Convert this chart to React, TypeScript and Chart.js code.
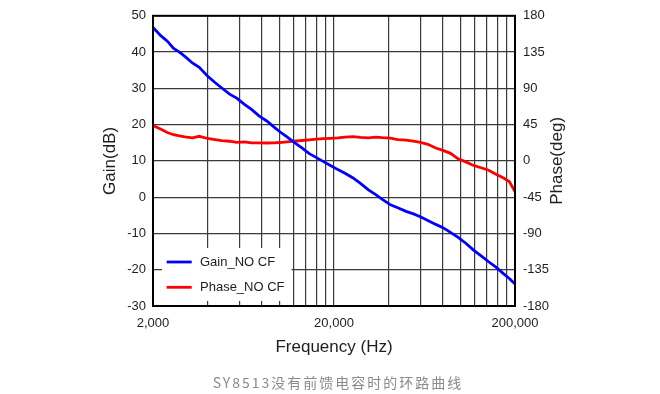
import React, { useEffect, useRef } from 'react';
import { Chart, registerables } from 'chart.js';

Chart.register(...registerables);

// ---- data ----
const FREQ_HZ = [
  2000, 2200, 2400, 2600, 2800, 3000, 3300, 3600, 4000, 4400, 4800, 5300, 5800, 6400, 7000, 7700,
  8500, 9300, 10000, 11000, 12000, 13300, 14600, 16000, 17500, 19000, 21000, 23000, 25500, 28000,
  31000, 34000, 37000, 41000, 45000, 50000, 55000, 60000, 66000, 73000, 80000, 88000, 97000,
  107000, 118000, 130000, 143000, 157000, 172000, 186000, 200000,
];

const GAIN_DB = [
  46.8, 44.6, 43.0, 41.0, 40.0, 38.8, 37.0, 35.8, 33.4, 31.6, 30.1, 28.4, 27.3, 25.6, 24.2, 22.4,
  21.0, 19.4, 18.1, 16.6, 15.2, 13.6, 12.0, 10.9, 9.8, 8.8, 7.6, 6.6, 5.3, 3.8,
  2.0, 0.7, -0.6, -2.1, -2.9, -3.9, -4.6, -5.4, -6.4, -7.5, -8.4, -9.7, -11.1,
  -12.7, -14.6, -16.2, -17.8, -19.3, -21.0, -22.4, -23.9,
];

const PHASE_DEG = [
  43.9, 39.5, 35.3, 32.5, 31.0, 29.8, 28.6, 30.5, 27.8, 26.5, 25.2, 24.4, 22.9, 23.5, 22.3, 22.4,
  22.2, 22.4, 22.8, 23.6, 24.5, 25.3, 26.2, 27.0, 27.6, 28.0, 28.6, 29.6, 30.2, 29.3,
  28.6, 29.5, 28.8, 28.3, 26.4, 25.9, 24.4, 23.0, 20.6, 16.0, 13.0, 9.4, 2.5,
  -1.2, -5.6, -8.5, -11.5, -16.5, -21.0, -25.5, -38.0,
];

const X_GRID_VALUES = [
  2000, 4000, 6000, 8000, 10000, 12000, 14000, 16000, 18000, 20000,
  40000, 60000, 80000, 100000, 120000, 140000, 160000, 180000, 200000,
];
const X_TICK_VALUES = [2000, 20000, 200000];
const X_TICK_LABELS = ['2,000', '20,000', '200,000'];

const GAIN_MIN = -30;
const GAIN_MAX = 50;
const GAIN_STEP = 10;
const PHASE_MIN = -180;
const PHASE_MAX = 180;
const PHASE_STEP = 45;

const SERIES_NAMES = ['Gain_NO CF', 'Phase_NO CF'];
const SERIES_COLORS = ['#0000ff', '#ff0000'];
const X_TITLE = 'Frequency (Hz)';
const Y_TITLE = 'Gain(dB)';
const Y1_TITLE = 'Phase(deg)';
const CAPTION = 'SY8513没有前馈电容时的环路曲线';

const FONT = "'Liberation Sans', Arial, sans-serif";
const TEXT = '#1e1e1e';

const overlayPlugin = {
  id: 'overlay',
  afterDraw(chart: any) {
    const { ctx, chartArea: a } = chart;
    ctx.save();
    // legend box (inside plot, bottom-left)
    ctx.fillStyle = '#ffffff';
    ctx.fillRect(a.left + 9, a.bottom - 58, 129.5, 53);
    const rows = [a.bottom - 44, a.bottom - 18.7];
    SERIES_NAMES.forEach((name, i) => {
      ctx.strokeStyle = SERIES_COLORS[i];
      ctx.lineWidth = 2.8;
      ctx.beginPath();
      ctx.moveTo(a.left + 13.7, rows[i]);
      ctx.lineTo(a.left + 38.7, rows[i]);
      ctx.stroke();
      ctx.fillStyle = TEXT;
      ctx.font = `13px ${FONT}`;
      ctx.textAlign = 'left';
      ctx.textBaseline = 'middle';
      ctx.fillText(name, a.left + 47, rows[i] + 0.5);
    });
    // frame
    ctx.strokeStyle = '#000';
    ctx.lineWidth = 2;
    ctx.strokeRect(a.left, a.top, a.right - a.left, a.bottom - a.top);
    // axis titles
    ctx.fillStyle = TEXT;
    ctx.font = `17px ${FONT}`;
    ctx.textAlign = 'center';
    ctx.textBaseline = 'alphabetic';
    const midY = (a.top + a.bottom) / 2;
    ctx.save();
    ctx.translate(a.left - 38, midY);
    ctx.rotate(-Math.PI / 2);
    ctx.fillText(Y_TITLE, 0, 0);
    ctx.restore();
    ctx.save();
    ctx.translate(a.right + 47, midY);
    ctx.rotate(-Math.PI / 2);
    ctx.fillText(Y1_TITLE, 0, 0);
    ctx.restore();
    ctx.fillText(X_TITLE, (a.left + a.right) / 2, a.bottom + 46);
    ctx.restore();
  },
};

export default function App() {
  const ref = useRef<HTMLCanvasElement | null>(null);

  useEffect(() => {
    if (!ref.current) return;
    const gainPts = FREQ_HZ.map((f, i) => ({ x: f, y: GAIN_DB[i] }));
    const phasePts = FREQ_HZ.map((f, i) => ({ x: f, y: PHASE_DEG[i] }));
    const chart = new Chart(ref.current, {
      type: 'line',
      data: {
        datasets: [
          {
            label: SERIES_NAMES[0],
            data: gainPts,
            borderColor: SERIES_COLORS[0],
            backgroundColor: SERIES_COLORS[0],
            borderWidth: 2.8,
            pointRadius: 0,
            tension: 0,
            yAxisID: 'y',
          },
          {
            label: SERIES_NAMES[1],
            data: phasePts,
            borderColor: SERIES_COLORS[1],
            backgroundColor: SERIES_COLORS[1],
            borderWidth: 2.8,
            pointRadius: 0,
            tension: 0,
            yAxisID: 'y1',
          },
        ],
      },
      options: {
        animation: false,
        responsive: false,
        layout: { padding: { top: 15, left: 0, right: 0, bottom: 0 } },
        plugins: { legend: { display: false }, tooltip: { enabled: false }, title: { display: false } },
        scales: {
          x: {
            type: 'logarithmic',
            min: X_TICK_VALUES[0],
            max: X_TICK_VALUES[X_TICK_VALUES.length - 1],
            afterBuildTicks: (s: any) => {
              s.ticks = X_GRID_VALUES.map((v) => ({ value: v }));
            },
            afterFit: (s: any) => {
              s.height = 88;
            },
            grid: { color: '#3a3a3a', lineWidth: 1.2, drawTicks: false },
            border: { display: false },
            ticks: {
              autoSkip: false,
              maxRotation: 0,
              padding: 10,
              color: TEXT,
              font: { size: 13, family: FONT },
              callback: (v: any) => {
                const idx = X_TICK_VALUES.indexOf(Number(v));
                return idx >= 0 ? X_TICK_LABELS[idx] : '';
              },
            },
          },
          y: {
            position: 'left',
            min: GAIN_MIN,
            max: GAIN_MAX,
            afterFit: (s: any) => {
              s.width = 153;
            },
            grid: { color: '#3a3a3a', lineWidth: 1.2, drawTicks: false },
            border: { display: false },
            ticks: { stepSize: GAIN_STEP, padding: 7, color: TEXT, font: { size: 13, family: FONT } },
          },
          y1: {
            position: 'right',
            min: PHASE_MIN,
            max: PHASE_MAX,
            afterFit: (s: any) => {
              s.width = 145;
            },
            grid: { display: false, drawTicks: false },
            border: { display: false },
            ticks: { stepSize: PHASE_STEP, padding: 8, color: TEXT, font: { size: 13, family: FONT } },
          },
        },
      },
      plugins: [overlayPlugin],
    } as any);
    return () => chart.destroy();
  }, []);

  return (
    <div style={{ position: 'fixed', left: 0, top: 0, width: 660, height: 394, background: '#fff' }}>
      <canvas ref={ref} width={660} height={394} style={{ width: 660, height: 394, display: 'block' }} />
      <div
        style={{
          position: 'absolute',
          left: 8,
          top: 372,
          width: 660,
          textAlign: 'center',
          fontFamily: "'Noto Sans CJK SC', 'Noto Sans', sans-serif",
          fontSize: 14,
          lineHeight: '20px',
          letterSpacing: 2,
          color: '#8a8a8a',
        }}
      >
        {CAPTION}
      </div>
    </div>
  );
}
